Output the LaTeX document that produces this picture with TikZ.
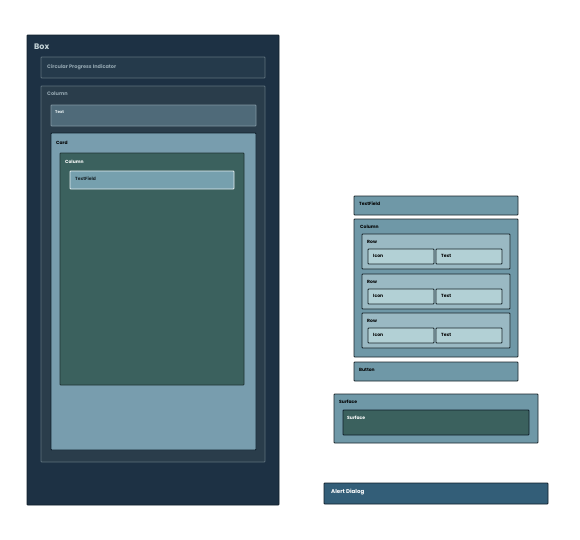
\documentclass[tikz,border=0pt]{standalone}
\usepackage{fontspec}
\setmainfont{Poppins}
\usetikzlibrary{calc}
\definecolor{navy}{HTML}{1D3144}
\definecolor{navyline}{HTML}{0F1E2A}
\definecolor{slate}{HTML}{253A4B}
\definecolor{slatecol}{HTML}{2A3D4B}
\definecolor{greyline}{HTML}{5E717C}
\definecolor{steel}{HTML}{4F6A79}
\definecolor{steelline}{HTML}{8096A2}
\definecolor{sky}{HTML}{789DAE}
\definecolor{pine}{HTML}{3B615E}
\definecolor{pineline}{HTML}{1F3434}
\definecolor{field}{HTML}{76A0AE}
\definecolor{frost}{HTML}{E3EEF0}
\definecolor{teal}{HTML}{6F98A7}
\definecolor{rowfill}{HTML}{9AB9C3}
\definecolor{leaf}{HTML}{B2D0D5}
\definecolor{inkline}{HTML}{1A262B}
\definecolor{dialog}{HTML}{335E78}
\tikzset{box/.style={draw=#1,line width=0.9pt,rounded corners=0.8pt},box/.default=inkline}
\tikzset{tag/.style={anchor=north west,inner sep=0pt,font=\fontsize{4.5}{5}\selectfont\bfseries,text=#1},tag/.default=black}

\begin{document}
\begin{tikzpicture}[x=1pt,y=-1pt]
	\useasboundingbox (0,0) rectangle (580,539);

	% left side
	\draw [box=navyline,fill=navy] (27,35) coordinate (B1) rectangle (279,505);
	\node [tag=frost!70!steelline,font=\fontsize{8}{9}\selectfont\bfseries] (Lbox) at ($(B1)+(7,8.5)$) {Box};
	\draw [box=greyline,fill=slate] (41,57) coordinate (B2) rectangle (265,78);
	\node [tag=steelline!85!white,font=\fontsize{5}{6}\selectfont\bfseries] (Lcpi) at ($(B2)+(6,7)$) {Circular Progress Indicator};
	\draw [box=greyline,fill=slatecol] (41,86) coordinate (B3) rectangle (265,462);
	\node [tag=steelline!85!white,font=\fontsize{5}{6}\selectfont\bfseries] (Lcol) at ($(B3)+(6,6)$) {Column};
	\draw [box=steelline,fill=steel] (51,105) coordinate (B4) rectangle (256,126);
	\node [tag=frost!70,font=\fontsize{4}{5}\selectfont\bfseries] (Ltext) at ($(B4)+(4,5.5)$) {Text};
	\draw [box=navyline,fill=sky] (51,133) coordinate (B5) rectangle (256,450);
	\node [tag] (Lcard) at ($(B5)+(5,7.5)$) {Card};
	\draw [box=pineline,fill=pine] (60,153) coordinate (B6) rectangle (244,385);
	\node [tag=white] (Lcol2) at ($(B6)+(5,7)$) {Column};
	\draw [box=frost,fill=field] (70,171) coordinate (B7) rectangle (234,189);
	\node [tag=inkline] (Lfield) at ($(B7)+(5,5.5)$) {TextField};

	% right side
	\draw [box,fill=teal] (354,196) coordinate (R1) rectangle (518,215);
	\node [tag] (Rfield) at ($(R1)+(5,5.5)$) {TextField};
	\draw [box,fill=teal] (354,219) coordinate (R2) rectangle (518,357);
	\node [tag] (Rcol) at ($(R2)+(6,6)$) {Column};
	\foreach \i/\y in {1/234,2/274,3/313} {
		\draw [box,fill=rowfill] (362,\y) coordinate (row\i) rectangle (510,\y+35);
		\node [tag] (Lrow\i) at ($(row\i)+(5,6.5)$) {Row};
		\draw [box,fill=leaf] (368,\y+15) coordinate (icon\i) rectangle (434,\y+30);
		\node [tag] (Licon\i) at ($(icon\i)+(5,5.5)$) {Icon};
		\draw [box,fill=leaf] (436,\y+15) coordinate (txt\i) rectangle (502,\y+30);
		\node [tag] (Ltxt\i) at ($(txt\i)+(5,5.5)$) {Text};
	}
	\draw [box,fill=teal] (354,362) coordinate (R3) rectangle (518,381);
	\node [tag] (Rbtn) at ($(R3)+(5,6.5)$) {Button};
	\draw [box,fill=teal] (334,394) coordinate (R4) rectangle (538,443);
	\node [tag] (Rsurf) at ($(R4)+(5,5.5)$) {Surface};
	\draw [box=navyline,fill=pine] (343,410) coordinate (R5) rectangle (529,435);
	\node [tag=white] (Rsurf2) at ($(R5)+(4,5.5)$) {Surface};
	\draw [box=navyline,fill=dialog] (324,483) coordinate (R6) rectangle (548,504);
	\node [tag=white,font=\fontsize{5.5}{6}\selectfont\bfseries] (Ralert) at ($(R6)+(7,6)$) {Alert Dialog};

\end{tikzpicture}
\end{document}
